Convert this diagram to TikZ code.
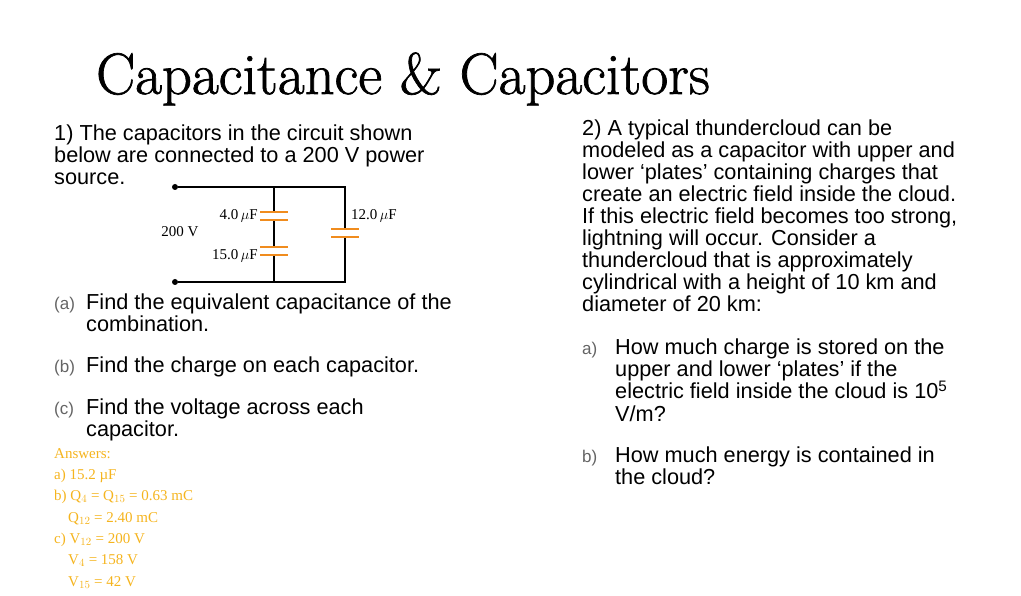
\documentclass[tikz,border=0pt]{standalone}
\usepackage{fontspec}
\setmainfont{Liberation Sans}
\newfontfamily\serifx{Latin Modern Roman}
\newfontfamily\serifbold[FakeBold=1.2]{Latin Modern Roman}
\newfontfamily\serify{Liberation Serif}
\definecolor{capor}{RGB}{240,140,30}
\definecolor{ansc}{RGB}{245,180,30}
\definecolor{lblg}{RGB}{100,100,100}
\begin{document}
\begin{tikzpicture}[x=1pt,y=-1pt,
  txt/.style={anchor=base west,inner sep=0pt,font=\fontsize{21.7}{22}\selectfont},
  lbl/.style={anchor=base west,inner sep=0pt,font=\fontsize{17}{22}\selectfont,text=lblg},
  ans/.style={anchor=base west,inner sep=0pt,font=\serify\fontsize{15}{16}\selectfont,text=ansc},
  cl/.style={inner sep=0pt,font=\serify\fontsize{15}{15}\selectfont},
  wire/.style={line width=1.2pt},
  plate/.style={capor,line width=2pt},
  dot/.style={circle,fill,inner sep=0pt,minimum size=6pt}]
\useasboundingbox (0,0) rectangle (1021,596);
\node[anchor=base,inner sep=0pt,font=\serifbold\fontsize{58.5}{60}\selectfont] (title) at (403,94) {Capacitance \& Capacitors};
% left text
\node[txt] (l1) at (54,141) {1) The capacitors in the circuit shown};
\node[txt] (l2) at (54,163) {below are connected to a 200 V power};
\node[txt] (l3) at (54,185) {source.};
% circuit
\node[dot] (d1) at (175,187) {};
\node[dot] (d2) at (175,282) {};
\coordinate (tm) at (274,187); \coordinate (tr) at (345,187);
\coordinate (bm) at (274,282); \coordinate (br) at (345,282);
\coordinate (a1) at (274,212); \coordinate (a2) at (274,220);
\coordinate (b1) at (274,247); \coordinate (b2) at (274,255);
\coordinate (c1) at (345,229); \coordinate (c2) at (345,237);
\draw[wire] (d1) -- (tr) -- (c1);
\draw[wire] (c2) -- (br) -- (d2);
\draw[wire] (tm) -- (a1); \draw[wire] (a2) -- (b1); \draw[wire] (b2) -- (bm);
\foreach \p in {a1,a2,b1,b2,c1,c2} \draw[plate] ([xshift=-14pt]\p) -- ([xshift=14pt]\p);
\node[cl,anchor=east] (lab4) at (258,216) {4.0\,$\mu$F};
\node[cl,anchor=east] (lab15) at (258,256) {15.0\,$\mu$F};
\node[cl,anchor=west] (lab12) at (351,216) {12.0\,$\mu$F};
\node[cl] (lab200) at (180,232) {200 V};
% questions
\node[lbl] (qa) at (54,309) {(a)};
\node[txt] (qa1) at (86,309) {Find the equivalent capacitance of the};
\node[txt] (qa2) at (86,331) {combination.};
\node[lbl] (qb) at (54,372) {(b)};
\node[txt] (qb1) at (86,372) {Find the charge on each capacitor.};
\node[lbl] (qc) at (54,414) {(c)};
\node[txt] (qc1) at (86,414) {Find the voltage across each};
\node[txt] (qc2) at (86,436) {capacitor.};
% answers
\node[ans] (an0) at (54,458) {Answers:};
\node[ans] (an1) at (54,479) {a) 15.2 µF};
\node[ans] (an2) at (54,500) {b) Q$_4$ = Q$_{15}$ = 0.63 mC};
\node[ans] (an3) at (68,522) {Q$_{12}$ = 2.40 mC};
\node[ans] (an4) at (54,543) {c) V$_{12}$ = 200 V};
\node[ans] (an5) at (68,564) {V$_4$ = 158 V};
\node[ans] (an6) at (68,586) {V$_{15}$ = 42 V};
% right column
\node[txt] (r1) at (582,136) {2) A typical thundercloud can be};
\node[txt] (r2) at (582,158) {modeled as a capacitor with upper and};
\node[txt] (r3) at (582,180) {lower `plates' containing charges that};
\node[txt] (r4) at (582,202) {create an electric field inside the cloud.};
\node[txt] (r5) at (582,224) {If this electric field becomes too strong,};
\node[txt] (r6) at (582,246) {lightning will occur.  Consider a};
\node[txt] (r7) at (582,268) {thundercloud that is approximately};
\node[txt] (r8) at (582,290) {cylindrical with a height of 10 km and};
\node[txt] (r9) at (582,312) {diameter of 20 km:};
\node[lbl] (ra) at (582,355) {a)};
\node[txt] (ra1) at (615,355) {How much charge is stored on the};
\node[txt] (ra2) at (615,377) {upper and lower `plates' if the};
\node[txt] (ra3) at (615,399) {electric field inside the cloud is 10\textsuperscript{5}};
\node[txt] (ra4) at (615,421) {V/m?};
\node[lbl] (rb) at (582,462) {b)};
\node[txt] (rb1) at (615,462) {How much energy is contained in};
\node[txt] (rb2) at (615,484) {the cloud?};
\end{tikzpicture}
\end{document}
